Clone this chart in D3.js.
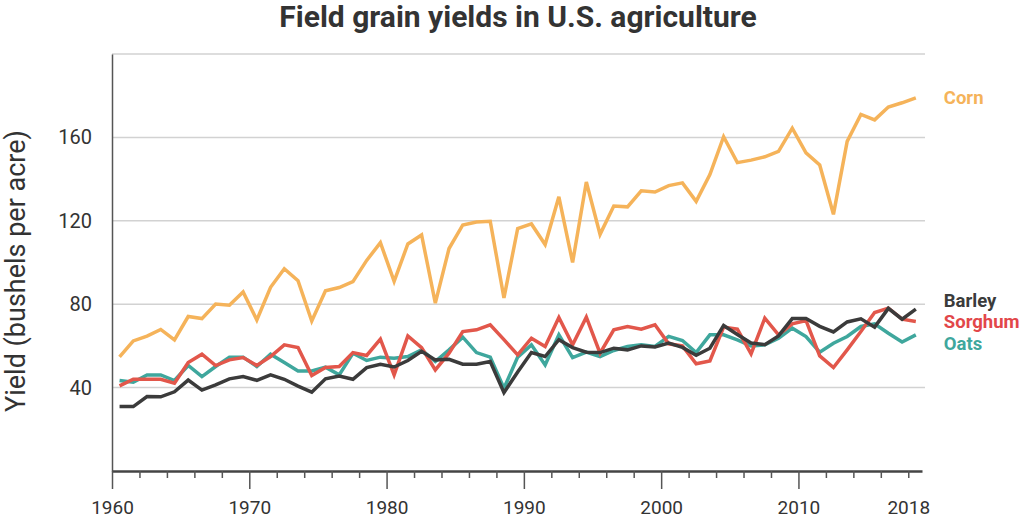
<!DOCTYPE html>
<html>
<head>
<meta charset="utf-8">
<script src="https://cdn.jsdelivr.net/npm/d3@7"></script>
<style>
  body { margin: 0; background: #fff; }
  svg { font-family: Roboto, "Noto Sans", sans-serif; }
</style>
</head>
<body>
<div id="chart"></div>
<script>
// data, bushels per acre, 1960 - 2018
var years = d3.range(1960, 2019);

var corn = [54.7, 62.4, 64.7, 67.9, 62.9, 74.1, 73.1, 80.1, 79.5, 85.9,
    72.4, 88.1, 97.0, 91.3, 71.9, 86.4, 88.0, 90.8, 101.0, 109.5,
    91.0, 108.9, 113.2, 80.5, 106.7, 118.0, 119.4, 119.8, 83.0, 116.3,
    118.5, 108.6, 131.5, 100.0, 138.6, 113.5, 127.1, 126.7, 134.4, 133.8,
    136.9, 138.2, 129.3, 142.2, 160.3, 147.9, 149.1, 150.7, 153.3, 164.4,
    152.6, 146.8, 123.1, 158.1, 171.0, 168.4, 174.6, 176.6, 179.0];

var barley = [30.9, 30.9, 35.7, 35.6, 38.0, 43.6, 38.8, 41.3, 44.2, 45.3,
    43.5, 46.1, 44.0, 40.7, 37.8, 44.2, 45.5, 44.0, 49.6, 51.2,
    49.9, 53.0, 57.4, 53.3, 53.6, 51.2, 51.2, 52.5, 37.6, 47.5,
    56.8, 54.9, 63.0, 59.2, 57.0, 56.8, 58.9, 58.1, 60.0, 59.5,
    61.4, 59.3, 55.5, 58.9, 69.8, 65.5, 61.4, 60.6, 64.8, 73.1,
    73.1, 69.4, 66.7, 71.5, 73.0, 69.0, 78.0, 72.8, 77.6];

var sorghum = [40.8, 44.0, 44.0, 44.0, 42.1, 52.0, 56.0, 50.6, 53.3, 54.4,
    50.6, 54.9, 60.5, 59.2, 45.8, 49.6, 50.1, 56.8, 55.4, 63.2,
    46.1, 64.8, 59.2, 48.5, 56.5, 66.9, 67.7, 70.1, 63.0, 55.7,
    63.7, 59.7, 73.6, 60.5, 73.8, 56.5, 67.7, 69.3, 68.0, 70.1,
    61.0, 60.0, 51.4, 52.8, 69.0, 68.0, 56.2, 73.3, 65.3, 70.6,
    72.2, 55.2, 49.6, 58.1, 66.9, 76.0, 78.1, 72.8, 71.7];

var oats = [43.4, 42.6, 46.1, 46.1, 43.4, 50.6, 45.3, 50.1, 54.6, 54.6,
    50.1, 56.0, 52.0, 48.0, 48.0, 49.8, 46.1, 56.5, 53.0, 54.6,
    54.1, 54.9, 58.1, 52.5, 58.1, 64.2, 56.8, 54.6, 39.7, 54.6,
    60.5, 50.9, 65.3, 54.4, 57.0, 54.9, 57.8, 59.7, 60.5, 59.7,
    64.6, 62.6, 56.8, 65.3, 65.3, 62.9, 60.0, 60.5, 63.7, 68.5,
    64.5, 57.0, 61.3, 64.5, 69.3, 70.6, 66.1, 61.9, 65.3];

var seriesNames = ["Corn", "Oats", "Sorghum", "Barley"];
var seriesValues = [corn, oats, sorghum, barley];
var seriesColors = ["#f5b35a", "#3fa79d", "#e2574b", "#3b3b3b"];
var labelColors = ["#f5b35a", "#3fa79d", "#e2474a", "#3b3b3b"];
var labelNudge = [0, 9, 0, -9];

var yTicks = [40, 80, 120, 160];
var gridTicks = [40, 80, 120, 160, 200];
var xLabels = [1960, 1970, 1980, 1990, 2000, 2010, 2018];

var width = 1024, height = 523;
var margin = { top: 54, right: 102, bottom: 52, left: 112 };

var svg = d3.select("#chart")
    .append("svg")
    .attr("width", width)
    .attr("height", height);

var xScale = d3.scaleLinear()
    .domain([1960, 2019])
    .range([margin.left, width - margin.right]);

var yScale = d3.scaleLinear()
    .domain([0, 200])
    .range([height - margin.bottom, margin.top]);

// title
svg.append("text")
    .attr("x", 518)
    .attr("y", 27)
    .attr("text-anchor", "middle")
    .style("font-size", "30px")
    .style("font-weight", 700)
    .style("fill", "#333")
    .text("Field grain yields in U.S. agriculture");

// y title
svg.append("text")
    .attr("transform", "translate(25," + 271 + ") rotate(-90)")
    .attr("text-anchor", "middle")
    .style("font-size", "27px")
    .style("fill", "#333")
    .text("Yield (bushels per acre)");

// gridlines
svg.append("g")
    .selectAll("line")
    .data(gridTicks)
    .join("line")
    .attr("x1", margin.left)
    .attr("x2", width - margin.right + 3)
    .attr("y1", d => yScale(d))
    .attr("y2", d => yScale(d))
    .attr("stroke", "#d2d2d2")
    .attr("stroke-width", 1.5);

// y axis
var yAxis = d3.axisLeft(yScale)
    .tickValues(yTicks)
    .tickSize(0)
    .tickPadding(20)
    .tickSizeOuter(0);

var gy = svg.append("g")
    .attr("transform", "translate(" + margin.left + ",0)")
    .call(yAxis);
gy.select(".domain").attr("stroke", "#555").attr("stroke-width", 1.5);
gy.selectAll("text")
    .style("font-size", "20px")
    .style("font-family", "Roboto")
    .style("fill", "#333");

// x axis
var xAxis = d3.axisBottom(xScale)
    .tickValues(d3.range(1960, 2019, 2))
    .tickSizeInner(7)
    .tickSizeOuter(0)
    .tickFormat(d => xLabels.indexOf(d) >= 0 ? d : "");

var gx = svg.append("g")
    .attr("transform", "translate(0," + yScale(0) + ")")
    .call(xAxis);
gx.select(".domain").attr("stroke", "#444").attr("stroke-width", 2.5);
gx.selectAll(".tick line")
    .attr("stroke", "#555")
    .attr("stroke-width", 1.5)
    .attr("y2", d => d % 10 == 0 ? 18 : 7);
gx.selectAll("text")
    .attr("y", 30)
    .style("font-size", "19px")
    .style("font-family", "Roboto")
    .style("fill", "#333");

// lines
var line = d3.line()
    .x((d, i) => xScale(years[i] + 0.55))
    .y(d => yScale(d));

svg.append("g")
    .selectAll("path")
    .data(seriesValues)
    .join("path")
    .attr("d", d => line(d))
    .attr("fill", "none")
    .attr("stroke", (d, i) => seriesColors[i])
    .attr("stroke-width", 3.5)
    .attr("stroke-linejoin", "miter")
    .attr("stroke-linecap", "butt");

// end labels
svg.append("g")
    .selectAll("text")
    .data(seriesNames)
    .join("text")
    .attr("x", xScale(2018.55) + 28)
    .attr("y", (d, i) => yScale(seriesValues[i][seriesValues[i].length - 1]) + labelNudge[i])
    .attr("dy", "0.35em")
    .style("font-size", "18.5px")
    .style("font-weight", 700)
    .style("fill", (d, i) => labelColors[i])
    .text(d => d);
</script>
</body>
</html>
